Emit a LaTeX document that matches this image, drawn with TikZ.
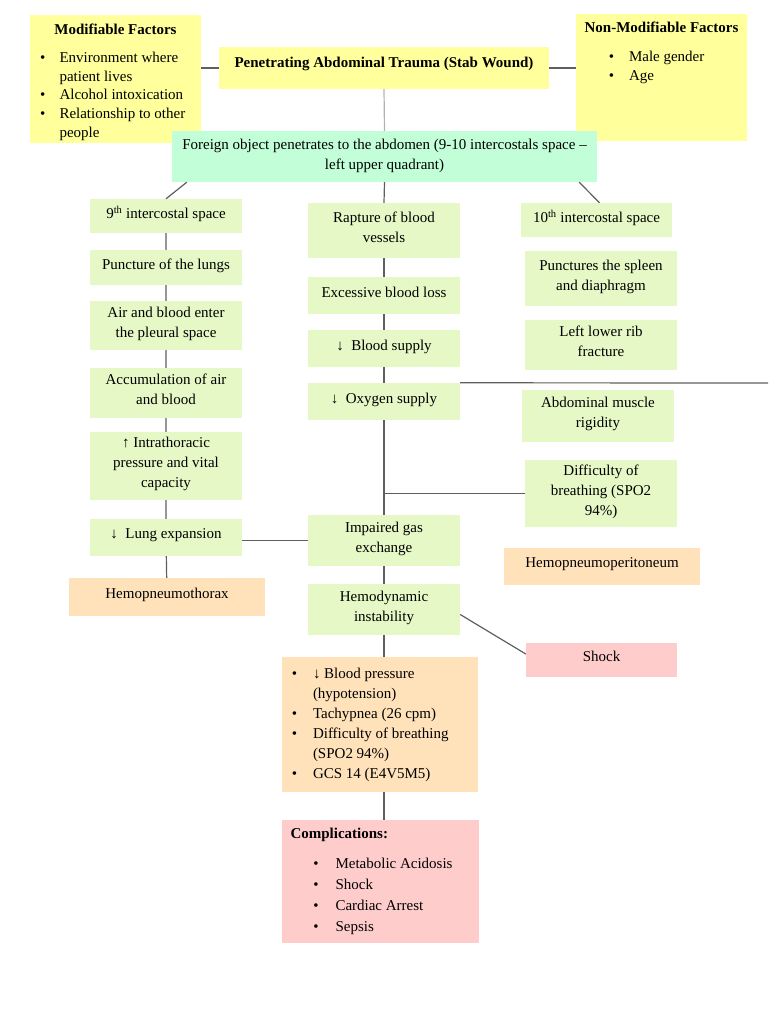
\documentclass[tikz,border=0pt]{standalone}
\usepackage{fontspec}
\setmainfont{Liberation Serif}
\usepackage{enumitem}
\usepackage{tikz}

\definecolor{factorYellow}{HTML}{FFFF9C}
\definecolor{stepGreen}{HTML}{E6F8C6}
\definecolor{causeMint}{HTML}{C2FFD8}
\definecolor{resultPeach}{HTML}{FFE2BA}
\definecolor{alertPink}{HTML}{FFCCCC}
\definecolor{linkGray}{HTML}{5F5F5F}

\begin{document}
\begin{tikzpicture}[x=1pt,y=-1pt,
  box/.style={inner sep=0pt, align=center, font=\fontsize{15}{20}\selectfont},
  lbox/.style={box, text depth=7pt},
  gbox/.style={lbox, fill=stepGreen, minimum width=152},
  pbox/.style={lbox, fill=resultPeach, minimum width=196},
  link/.style={draw=linkGray, line width=1.2pt}]
\useasboundingbox (0,0) rectangle (768,1024);

% top row
\node[box, fill=factorYellow, minimum width=171, minimum height=128,
  font=\fontsize{15}{18.6}\selectfont] (mod) at (115.5,79) {%
  \begin{minipage}{162pt}\vspace*{6pt}\centering\textbf{Modifiable Factors}\par\vspace{10pt}
  \begin{itemize}[leftmargin=25pt,labelsep=14pt,label=\textbullet,nosep]\raggedright
  \item Environment where patient lives
  \item Alcohol intoxication
  \item Relationship to other people
  \end{itemize}\end{minipage}};
\node[box, fill=factorYellow, minimum width=171, minimum height=127,
  font=\fontsize{15}{19}\selectfont] (nonmod) at (661.5,77.5) {%
  \begin{minipage}[c][127pt][t]{155pt}\vspace*{8pt}\centering\textbf{Non-Modifiable Factors}\par\vspace{10pt}
  \begin{itemize}[leftmargin=45pt,labelsep=15pt,label=\textbullet,nosep]\raggedright
  \item Male gender
  \item Age
  \end{itemize}\end{minipage}};
\node[box, fill=factorYellow, minimum width=330, minimum height=42, text depth=12pt] (pen) at (384,68)
  {\textbf{Penetrating Abdominal Trauma (Stab Wound)}};
\node[box, fill=causeMint, minimum width=425, minimum height=51, text depth=4pt] (fo) at (384.5,156.5)
  {Foreign object penetrates to the abdomen (9-10 intercostals space --\\left upper quadrant)};

% left column
\node[gbox, minimum height=34] (l1) at (166,216) {9\textsuperscript{th} intercostal space};
\node[gbox, minimum height=35] (l2) at (166,267.5) {Puncture of the lungs};
\node[gbox, minimum height=49] (l3) at (166,325.5) {Air and blood enter\\the pleural space};
\node[gbox, minimum height=50] (l4) at (166,393) {Accumulation of air\\and blood};
\node[gbox, minimum height=68] (l5) at (166,466) {↑ Intrathoracic\\pressure and vital\\capacity};
\node[gbox, minimum height=37] (l6) at (166,537.5) {↓\ \ Lung expansion};
\node[pbox, minimum height=38] (thorax) at (167,597) {Hemopneumothorax};

% middle column
\node[gbox, minimum height=55] (m1) at (384,230.5) {Rapture of blood\\vessels};
\node[gbox, minimum height=37] (m2) at (384,295.5) {Excessive blood loss};
\node[gbox, minimum height=37] (m3) at (384,348.5) {↓\ \ Blood supply};
\node[gbox, minimum height=37] (m4) at (384,401.5) {↓\ \ Oxygen supply};
\node[gbox, minimum height=51] (m5) at (384,540.5) {Impaired gas\\exchange};
\node[gbox, minimum height=51] (m6) at (384,609.5) {Hemodynamic\\instability};
\node[box, fill=resultPeach, minimum width=196, minimum height=135] (signs) at (380,724.5) {%
  \begin{minipage}{186pt}
  \begin{itemize}[leftmargin=26pt,labelsep=16pt,label=\textbullet,nosep]\raggedright
  \item ↓ Blood pressure (hypotension)
  \item Tachypnea (26 cpm)
  \item Difficulty of breathing (SPO2 94\%)
  \item GCS 14 (E4V5M5)
  \end{itemize}\end{minipage}};
\node[box, fill=alertPink, minimum width=197, minimum height=123,
  font=\fontsize{15}{21}\selectfont] (comp) at (380.5,881.5) {%
  \begin{minipage}{180pt}\textbf{Complications:}\par\vspace{9pt}
  \begin{itemize}[leftmargin=45pt,labelsep=17pt,label=\textbullet,nosep]\raggedright
  \item Metabolic Acidosis
  \item Shock
  \item Cardiac Arrest
  \item Sepsis
  \end{itemize}\end{minipage}};

% right column
\node[gbox, minimum width=151, minimum height=34] (r1) at (596.5,220) {10\textsuperscript{th} intercostal space};
\node[gbox, minimum height=55] (r2) at (601,278.5) {Punctures the spleen\\and diaphragm};
\node[gbox, minimum height=50] (r3) at (601,345) {Left lower rib\\fracture};
\node[gbox, minimum height=52] (r4) at (598,416) {Abdominal muscle\\rigidity};
\node[gbox, minimum height=67] (r5) at (601,493.5) {Difficulty of\\breathing (SPO2\\94\%)};
\node[pbox, minimum height=37] (peri) at (602,566.5) {Hemopneumoperitoneum};
\node[lbox, fill=alertPink, minimum width=151, minimum height=34] (shock) at (601.5,660) {Shock};

\coordinate (edge) at (768,383);

\draw[link] (pen.west) -- (pen.west -| mod.east);
\draw[link] (pen.east) -- (pen.east -| nonmod.west);
\draw[draw=gray!60, line width=1.2pt] (pen.south) -- (fo.north);
\draw[link] ([xshift=15pt]fo.south west) -- (l1.north);
\draw[link] (fo.south) -- (m1.north);
\draw[link] ([xshift=-18pt]fo.south east) -- ([xshift=3pt]r1.north);

\draw[link] (l1) -- (l2) (l2) -- (l3) (l3) -- (l4) (l4) -- (l5) (l5) -- (l6) (l6) -- (thorax);
\draw[link] (m1) -- (m2) (m2) -- (m3) (m3) -- (m4) (m4) -- (m5) (m5) -- (m6);
\draw[link] (m6.south) -- (m6.south |- signs.north);
\draw[link] (m6.south |- signs.south) -- (m6.south |- comp.north);

\draw[link] (m4.north east) -- (edge);
\draw[link] (r5.west) -- (r5.west -| m4.south);
\draw[link] (m5.west) -- (m5.west -| l6.east);
\draw[link] ([yshift=-5pt]m6.east) -- ([yshift=6pt]shock.west);

\end{tikzpicture}
\end{document}
